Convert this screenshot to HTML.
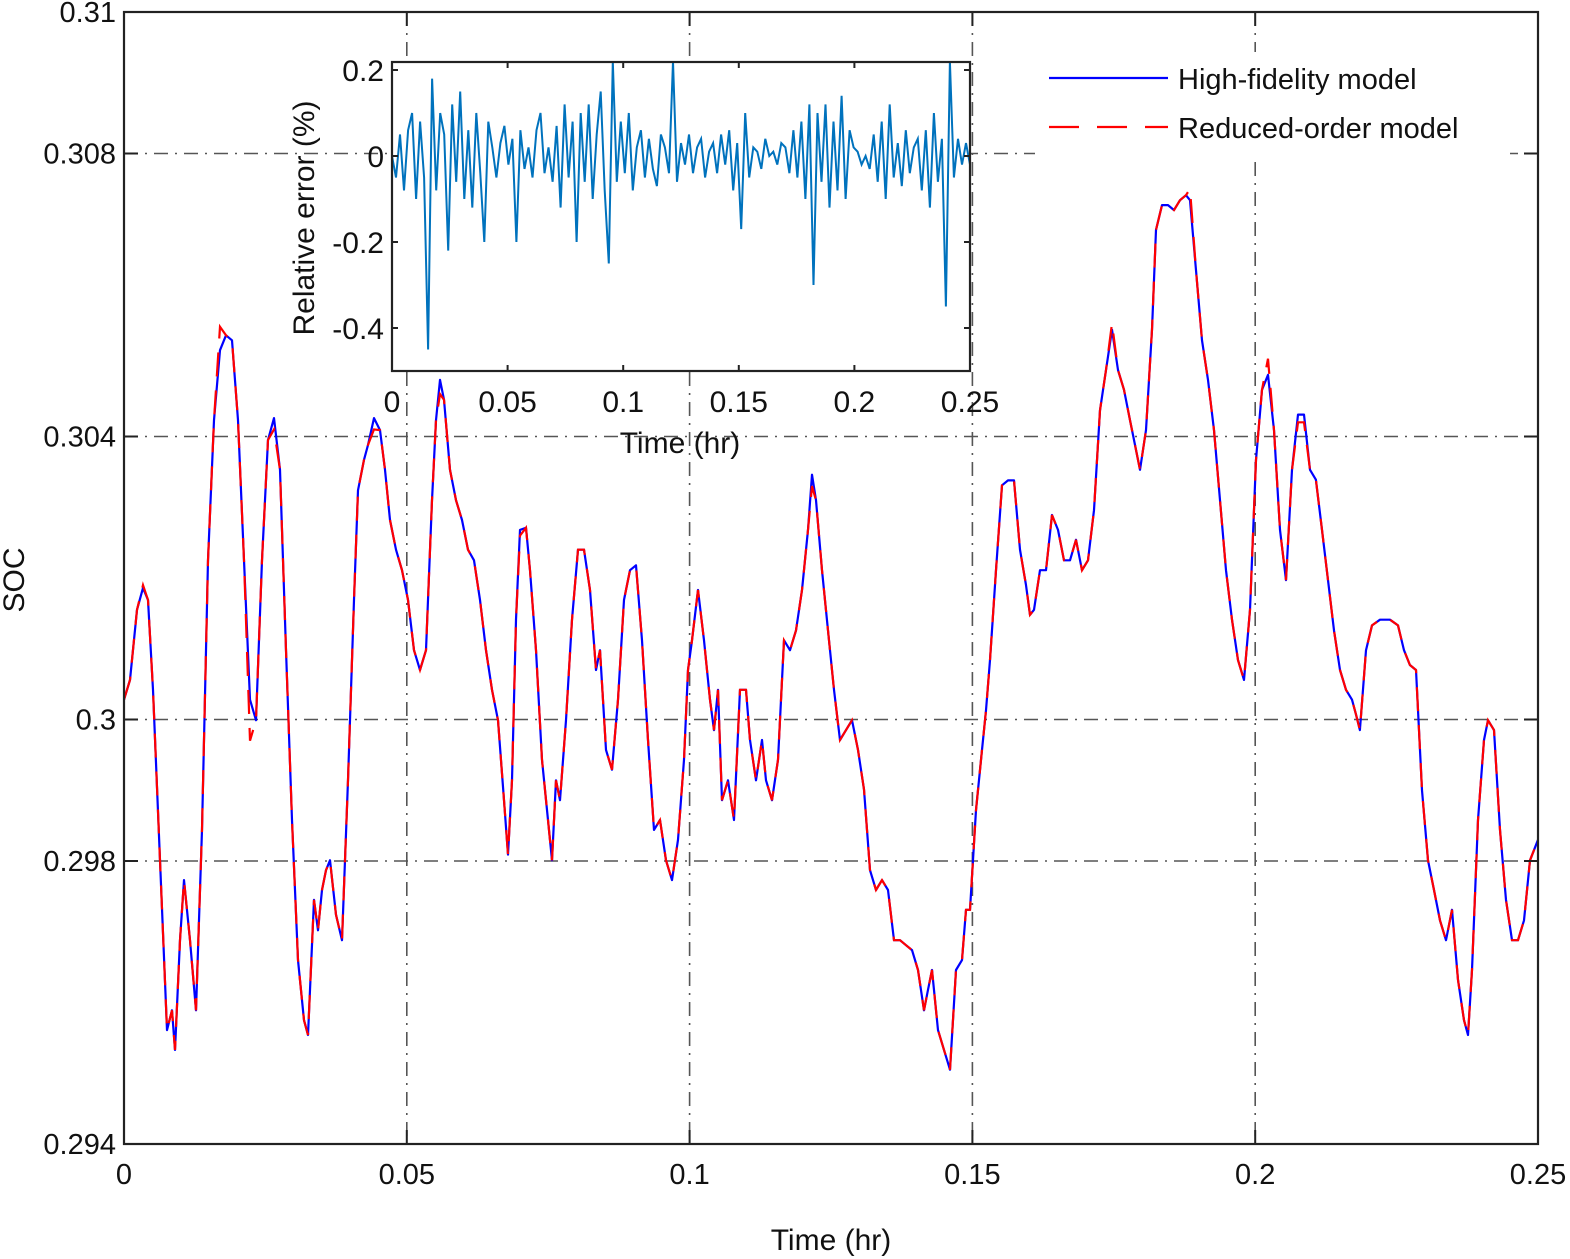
<!DOCTYPE html>
<html><head><meta charset="utf-8"><style>
html,body{margin:0;padding:0;background:#fff}
svg{display:block}
text{font-family:"Liberation Sans",Arial,sans-serif;fill:#111}
</style></head><body>
<svg id="chart" width="1570" height="1259" viewBox="0 0 1570 1259" xmlns="http://www.w3.org/2000/svg">
<g id="grid"></g>
<g id="series"></g>
<g id="axes"></g>
<g id="legend"></g>
<g id="inset"></g>
</svg>
<script>
const timeHr = [0,0.00106,0.00230,0.00336,0.00424,0.00513,0.00636,0.00760,0.00849,0.00902,0.00990,0.01061,0.01167,0.01273,0.01379,0.01485,0.01591,0.01697,0.01803,0.01909,0.02016,0.02122,0.02228,0.02334,0.02440,0.02546,0.02652,0.02758,0.02864,0.02970,0.03076,0.03182,0.03253,0.03359,0.03430,0.03501,0.03571,0.03642,0.03748,0.03854,0.03960,0.04066,0.04137,0.04243,0.04314,0.04420,0.04526,0.04614,0.04703,0.04809,0.04915,0.05021,0.05127,0.05233,0.05339,0.05445,0.05516,0.05587,0.05658,0.05764,0.05870,0.05976,0.06082,0.06188,0.06294,0.06400,0.06506,0.06612,0.06718,0.06789,0.06860,0.06931,0.07001,0.07107,0.07178,0.07284,0.07390,0.07496,0.07567,0.07638,0.07708,0.07815,0.07921,0.08027,0.08133,0.08239,0.08345,0.08416,0.08522,0.08628,0.08734,0.08840,0.08946,0.09052,0.09158,0.09264,0.09370,0.09476,0.09582,0.09689,0.09795,0.09901,0.09972,0.10042,0.10148,0.10254,0.10360,0.10431,0.10502,0.10573,0.10679,0.10785,0.10891,0.10997,0.11068,0.11174,0.11280,0.11351,0.11457,0.11563,0.11669,0.11775,0.11881,0.11987,0.12093,0.12164,0.12235,0.12341,0.12447,0.12553,0.12659,0.12765,0.12871,0.12977,0.13083,0.13189,0.13295,0.13401,0.13508,0.13614,0.13720,0.13826,0.13932,0.14038,0.14144,0.14215,0.14285,0.14392,0.14498,0.14604,0.14710,0.14816,0.14887,0.14957,0.15063,0.15169,0.15240,0.15311,0.15417,0.15523,0.15629,0.15735,0.15841,0.15947,0.16018,0.16089,0.16195,0.16301,0.16407,0.16513,0.16619,0.16725,0.16831,0.16937,0.17044,0.17150,0.17256,0.17362,0.17468,0.17574,0.17680,0.17786,0.17892,0.17963,0.18069,0.18175,0.18246,0.18352,0.18458,0.18564,0.18670,0.18776,0.18847,0.18953,0.19059,0.19165,0.19271,0.19377,0.19483,0.19589,0.19696,0.19802,0.19908,0.20014,0.20120,0.20226,0.20332,0.20438,0.20544,0.20650,0.20756,0.20862,0.20968,0.21074,0.21181,0.21287,0.21393,0.21499,0.21605,0.21711,0.21782,0.21852,0.21959,0.22065,0.22206,0.22383,0.22524,0.22630,0.22736,0.22843,0.22949,0.23055,0.23161,0.23267,0.23373,0.23479,0.23585,0.23691,0.23762,0.23833,0.23939,0.24045,0.24116,0.24222,0.24328,0.24434,0.24540,0.24646,0.24752,0.24858,0.25];
const socHighFidelity = [0.30028,0.30056,0.30155,0.30186,0.30169,0.30042,0.29801,0.29561,0.29589,0.29533,0.29688,0.29773,0.29688,0.29589,0.29844,0.30225,0.30423,0.30522,0.30543,0.30536,0.30423,0.30225,0.30028,0.29999,0.30225,0.30395,0.30426,0.30353,0.30098,0.29858,0.29660,0.29575,0.29554,0.29745,0.29702,0.29759,0.29787,0.29801,0.29724,0.29688,0.29914,0.30169,0.30324,0.30367,0.30388,0.30426,0.30409,0.30353,0.30282,0.30240,0.30211,0.30169,0.30098,0.30070,0.30098,0.30310,0.30423,0.30480,0.30452,0.30353,0.30310,0.30282,0.30240,0.30225,0.30169,0.30098,0.30042,0.29999,0.29886,0.29809,0.29914,0.30141,0.30268,0.30271,0.30211,0.30098,0.29943,0.29858,0.29801,0.29914,0.29886,0.29999,0.30141,0.30240,0.30240,0.30183,0.30070,0.30098,0.29957,0.29929,0.30028,0.30169,0.30211,0.30218,0.30112,0.29971,0.29844,0.29858,0.29801,0.29773,0.29830,0.29943,0.30070,0.30112,0.30183,0.30112,0.30028,0.29985,0.30042,0.29886,0.29914,0.29858,0.30042,0.30042,0.29971,0.29914,0.29971,0.29914,0.29886,0.29943,0.30112,0.30098,0.30126,0.30183,0.30268,0.30346,0.30310,0.30211,0.30126,0.30042,0.29971,0.29985,0.29999,0.29957,0.29901,0.29787,0.29759,0.29773,0.29759,0.29688,0.29688,0.29681,0.29674,0.29646,0.29589,0.29618,0.29646,0.29561,0.29533,0.29505,0.29646,0.29660,0.29731,0.29731,0.29872,0.29957,0.30013,0.30084,0.30211,0.30331,0.30338,0.30338,0.30240,0.30190,0.30148,0.30155,0.30211,0.30211,0.30289,0.30268,0.30225,0.30225,0.30254,0.30211,0.30225,0.30296,0.30437,0.30494,0.30551,0.30494,0.30466,0.30423,0.30381,0.30353,0.30409,0.30551,0.30692,0.30727,0.30727,0.30720,0.30734,0.30741,0.30734,0.30635,0.30536,0.30480,0.30409,0.30310,0.30211,0.30141,0.30084,0.30056,0.30155,0.30367,0.30466,0.30487,0.30409,0.30268,0.30197,0.30353,0.30431,0.30431,0.30353,0.30339,0.30268,0.30197,0.30126,0.30070,0.30042,0.30028,0.30007,0.29985,0.30098,0.30133,0.30141,0.30141,0.30133,0.30098,0.30077,0.30070,0.29900,0.29801,0.29759,0.29716,0.29688,0.29731,0.29632,0.29575,0.29554,0.29646,0.29858,0.29971,0.29999,0.29985,0.29844,0.29745,0.29688,0.29688,0.29716,0.29801,0.29830];
const socReducedOrder = [0.30028,0.30056,0.30155,0.30190,0.30169,0.30042,0.29801,0.29561,0.29589,0.29533,0.29688,0.29773,0.29688,0.29589,0.29844,0.30225,0.30423,0.30555,0.30543,0.30536,0.30423,0.30225,0.29970,0.29999,0.30225,0.30395,0.30410,0.30353,0.30098,0.29858,0.29660,0.29575,0.29554,0.29745,0.29702,0.29759,0.29787,0.29801,0.29724,0.29688,0.29914,0.30169,0.30324,0.30367,0.30388,0.30410,0.30409,0.30353,0.30282,0.30240,0.30211,0.30169,0.30098,0.30070,0.30098,0.30310,0.30423,0.30460,0.30452,0.30353,0.30310,0.30282,0.30240,0.30225,0.30169,0.30098,0.30042,0.29999,0.29886,0.29809,0.29914,0.30141,0.30260,0.30271,0.30211,0.30098,0.29943,0.29858,0.29801,0.29914,0.29886,0.29999,0.30141,0.30240,0.30240,0.30183,0.30070,0.30098,0.29957,0.29929,0.30028,0.30169,0.30211,0.30218,0.30112,0.29971,0.29844,0.29858,0.29801,0.29773,0.29830,0.29943,0.30070,0.30112,0.30183,0.30112,0.30028,0.29985,0.30042,0.29886,0.29914,0.29858,0.30042,0.30042,0.29971,0.29914,0.29971,0.29914,0.29886,0.29943,0.30112,0.30098,0.30126,0.30183,0.30268,0.30330,0.30310,0.30211,0.30126,0.30042,0.29971,0.29985,0.29999,0.29957,0.29901,0.29787,0.29759,0.29773,0.29759,0.29688,0.29688,0.29681,0.29674,0.29646,0.29589,0.29618,0.29646,0.29561,0.29533,0.29505,0.29646,0.29660,0.29731,0.29731,0.29872,0.29957,0.30013,0.30084,0.30211,0.30331,0.30338,0.30338,0.30240,0.30190,0.30148,0.30155,0.30211,0.30211,0.30289,0.30268,0.30225,0.30225,0.30254,0.30211,0.30225,0.30296,0.30437,0.30494,0.30560,0.30494,0.30466,0.30423,0.30381,0.30353,0.30409,0.30551,0.30692,0.30727,0.30727,0.30720,0.30734,0.30741,0.30750,0.30635,0.30536,0.30480,0.30409,0.30310,0.30211,0.30141,0.30084,0.30056,0.30155,0.30367,0.30466,0.30510,0.30409,0.30268,0.30197,0.30353,0.30420,0.30420,0.30353,0.30339,0.30268,0.30197,0.30126,0.30070,0.30042,0.30028,0.30007,0.29985,0.30098,0.30133,0.30141,0.30141,0.30133,0.30098,0.30077,0.30070,0.29900,0.29801,0.29759,0.29716,0.29688,0.29731,0.29632,0.29575,0.29554,0.29646,0.29858,0.29971,0.29999,0.29985,0.29844,0.29745,0.29688,0.29688,0.29716,0.29801,0.29830];
const xTickValues = [0,0.05,0.1,0.15,0.2,0.25];
const xTickLabels = ["0","0.05","0.1","0.15","0.2","0.25"];
const yTickValues = [0.294,0.298,0.3,0.304,0.308,0.31];
const yTickLabels = ["0.294","0.298","0.3","0.304","0.308","0.31"];
const relErrorPct = [0,-0.05,0.05,-0.08,0.06,0.1,-0.1,0.08,-0.05,-0.45,
0.18,-0.08,0.1,0.05,-0.22,0.12,-0.06,0.15,-0.1,0.06,
-0.12,0.1,-0.04,-0.2,0.08,0.02,-0.05,0.03,0.07,-0.02,
0.04,-0.2,0.06,-0.03,0.02,-0.05,0.06,0.1,-0.04,0.02,
-0.06,0.07,-0.12,0.12,-0.05,0.08,-0.2,0.1,-0.06,0.12,
-0.1,0.05,0.15,-0.08,-0.25,0.22,-0.06,0.08,-0.04,0.1,
-0.08,0.02,0.06,-0.05,0.04,-0.03,-0.07,0.05,0.02,-0.04,
0.22,-0.06,0.03,-0.02,0.05,-0.04,0.02,0.04,-0.05,0.01,
0.03,-0.04,0.05,-0.02,0.06,-0.08,0.03,-0.17,0.1,-0.05,
0.02,0.01,-0.03,0.04,0.0,0.01,-0.02,0.03,0.02,-0.04,
0.06,-0.05,0.08,-0.1,0.12,-0.3,0.1,-0.06,0.12,-0.12,
0.08,-0.08,0.14,-0.1,0.06,0.02,0.01,-0.02,0.0,-0.03,
0.05,-0.06,0.08,-0.1,0.12,-0.05,0.03,-0.07,0.06,-0.04,
0.02,0.04,-0.08,0.06,-0.12,0.1,-0.06,0.04,-0.35,0.22,
-0.05,0.04,-0.02,0.03,-0.02];
const insetXTickValues = [0,0.05,0.1,0.15,0.2,0.25];
const insetXTickLabels = ["0","0.05","0.1","0.15","0.2","0.25"];
const insetYTickValues = [-0.4,-0.2,0,0.2];
const insetYTickLabels = ["-0.4","-0.2","0","0.2"];

const NS="http://www.w3.org/2000/svg";
function mk(parent,tag,attrs,txt){const e=document.createElementNS(NS,tag);for(const k in attrs)e.setAttribute(k,attrs[k]);if(txt!==undefined)e.textContent=txt;parent.appendChild(e);return e;}
const P={l:124,r:1538,t:12,b:1144};
function xs(t){return P.l+(t-0)/(0.25)*(P.r-P.l);}
function ys(v){return P.b-(v-0.294)/(0.31-0.294)*(P.b-P.t);}
const grid=document.getElementById('grid'),series=document.getElementById('series'),axes=document.getElementById('axes'),legend=document.getElementById('legend'),inset=document.getElementById('inset');
const gridStyle={stroke:'#555',"stroke-width":1.6,"stroke-dasharray":"14 7 2 7",fill:'none'};
xTickValues.forEach(function(v,i){
  if(i>0&&i<xTickValues.length-1){const g=mk(grid,'line',Object.assign({x1:xs(v),x2:xs(v),y1:P.t,y2:P.b},gridStyle));
  
  }
  const tk=mk(axes,'line',{x1:xs(v),x2:xs(v),y1:P.b,y2:P.b-14,stroke:'#222',"stroke-width":2});
  
  
  const tk2=mk(axes,'line',{x1:xs(v),x2:xs(v),y1:P.t,y2:P.t+14,stroke:'#222',"stroke-width":2});
  
  
  const lb=mk(axes,'text',{x:xs(v),y:P.b+40,"text-anchor":"middle","font-size":29},xTickLabels[i]);
  
  
});
yTickValues.forEach(function(v,i){
  if(i>0&&i<yTickValues.length-1){const g=mk(grid,'line',Object.assign({x1:P.l,x2:P.r,y1:ys(v),y2:ys(v)},gridStyle));
  
  }
  const tk=mk(axes,'line',{x1:P.l,x2:P.l+14,y1:ys(v),y2:ys(v),stroke:'#222',"stroke-width":2});
  
  
  const tk2=mk(axes,'line',{x1:P.r,x2:P.r-14,y1:ys(v),y2:ys(v),stroke:'#222',"stroke-width":2});
  
  
  const lb=mk(axes,'text',{x:P.l-8,y:ys(v)+10,"text-anchor":"end","font-size":29},yTickLabels[i]);
  
  
});
const box=mk(axes,'rect',{x:P.l,y:P.t,width:P.r-P.l,height:P.b-P.t,fill:'none',stroke:'#222',"stroke-width":2.2});


const xl=mk(axes,'text',{x:831,y:1250,"text-anchor":"middle","font-size":30},"Time (hr)");


const yl=mk(axes,'text',{x:0,y:0,"text-anchor":"middle","font-size":30,transform:"translate(24,580) rotate(-90)"},"SOC");



function pathFrom(tArr,vArr,fx,fy){return tArr.map(function(t,i){return (i?'L':'M')+fx(t).toFixed(1)+','+fy(vArr[i]).toFixed(1);}).join(' ');}
const hf=mk(series,'path',{d:pathFrom(timeHr,socHighFidelity,xs,ys),fill:'none',stroke:'#0000ff',"stroke-width":2.2,"stroke-linejoin":"round"});


const ro=mk(series,'path',{d:pathFrom(timeHr,socReducedOrder,xs,ys),fill:'none',stroke:'#ff0000',"stroke-width":2.2,"stroke-dasharray":"24 14"});



const lbg=mk(legend,'rect',{x:1035,y:52,width:475,height:104,fill:'#fff'});


const l1=mk(legend,'line',{x1:1049,x2:1168,y1:78,y2:78,stroke:'#0000ff',"stroke-width":2.2});


const t1=mk(legend,'text',{x:1178,y:89,"font-size":29},"High-fidelity model");


const l2=mk(legend,'line',{x1:1049,x2:1168,y1:127,y2:127,stroke:'#ff0000',"stroke-width":2.2,"stroke-dasharray":"30 18"});


const t2=mk(legend,'text',{x:1178,y:138,"font-size":29},"Reduced-order model");



const I={l:392,r:970,t:62,b:371};
function ixs(t){return I.l+t/0.25*(I.r-I.l);}
function iys(v){return 156-v/0.2*86;}
const ibg=mk(inset,'rect',{x:I.l,y:I.t,width:I.r-I.l,height:I.b-I.t,fill:'#fff'});


const errTime=relErrorPct.map(function(_,i){return i*0.25/(relErrorPct.length-1);});
const el=mk(inset,'path',{d:pathFrom(errTime,relErrorPct,ixs,iys),fill:'none',stroke:'#0072BD',"stroke-width":2});


insetXTickValues.forEach(function(v,i){
  const tk=mk(inset,'line',{x1:ixs(v),x2:ixs(v),y1:I.b,y2:I.b-6,stroke:'#222',"stroke-width":2});
  
  
  const tk2=mk(inset,'line',{x1:ixs(v),x2:ixs(v),y1:I.t,y2:I.t+6,stroke:'#222',"stroke-width":2});
  
  
  const lb=mk(inset,'text',{x:ixs(v),y:I.b+41,"text-anchor":"middle","font-size":30},insetXTickLabels[i]);
  
  
});
insetYTickValues.forEach(function(v,i){
  const tk=mk(inset,'line',{x1:I.l,x2:I.l+6,y1:iys(v),y2:iys(v),stroke:'#222',"stroke-width":2});
  
  
  const tk2=mk(inset,'line',{x1:I.r,x2:I.r-6,y1:iys(v),y2:iys(v),stroke:'#222',"stroke-width":2});
  
  
  const lb=mk(inset,'text',{x:I.l-8,y:iys(v)+11,"text-anchor":"end","font-size":30},insetYTickLabels[i]);
  
  
});
const ibox=mk(inset,'rect',{x:I.l,y:I.t,width:I.r-I.l,height:I.b-I.t,fill:'none',stroke:'#222',"stroke-width":2.2});


const ixl=mk(inset,'text',{x:680,y:453,"text-anchor":"middle","font-size":30},"Time (hr)");


const iyl=mk(inset,'text',{x:0,y:0,"text-anchor":"middle","font-size":30,transform:"translate(314,218) rotate(-90)"},"Relative error (%)");


</script>
</body></html>
